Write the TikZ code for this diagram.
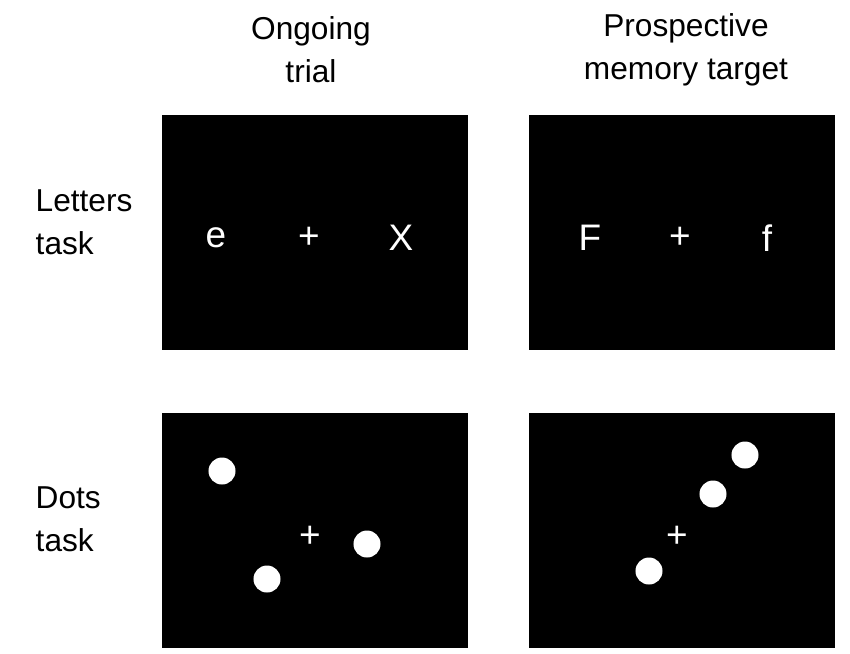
\documentclass[tikz,border=0pt]{standalone}
\usepackage{fontspec}
\setmainfont{Liberation Sans}
\begin{document}
\begin{tikzpicture}[x=0.01cm,y=-0.01cm,
  panel/.style={fill=black,draw=none},
  head/.style={align=center,font=\fontsize{9}{12.2}\selectfont,inner sep=0pt},
  side/.style={align=left,anchor=west,font=\fontsize{9}{12.2}\selectfont,inner sep=0pt},
  sym/.style={text=white,font=\fontsize{10.5}{12}\selectfont,inner sep=0pt},
  dot/.style={circle,fill=white,minimum size=0.27cm,inner sep=0pt}]
\useasboundingbox (0,0) rectangle (850,653);
\fill[panel] (162,115) rectangle (468,350);
\fill[panel] (529,115) rectangle (835,350);
\fill[panel] (162,413) rectangle (468,648);
\fill[panel] (529,413) rectangle (835,648);
\node[head] (h1) at (311,50) {Ongoing\\trial};
\node[head] (h2) at (686,50) {Prospective\\memory target};
\node[side] (s1) at (35,222) {Letters\\task};
\node[side] (s2) at (35,519) {Dots\\task};
\node[sym] (l1) at (216,238) {e};
\node[sym] (l2) at (309,238) {+};
\node[sym] (l3) at (401,238) {X};
\node[sym] (l4) at (590,238) {F};
\node[sym] (l5) at (680,238) {+};
\node[sym] (l6) at (767,238) {f};
\node[dot] (d1) at (222,471) {};
\node[dot] (d2) at (267,579) {};
\node[dot] (d3) at (367,544) {};
\node[sym] (p1) at (310,537) {+};
\node[dot] (d4) at (745,455) {};
\node[dot] (d5) at (713,494) {};
\node[dot] (d6) at (649,571) {};
\node[sym] (p2) at (677,537) {+};
\end{tikzpicture}
\end{document}
